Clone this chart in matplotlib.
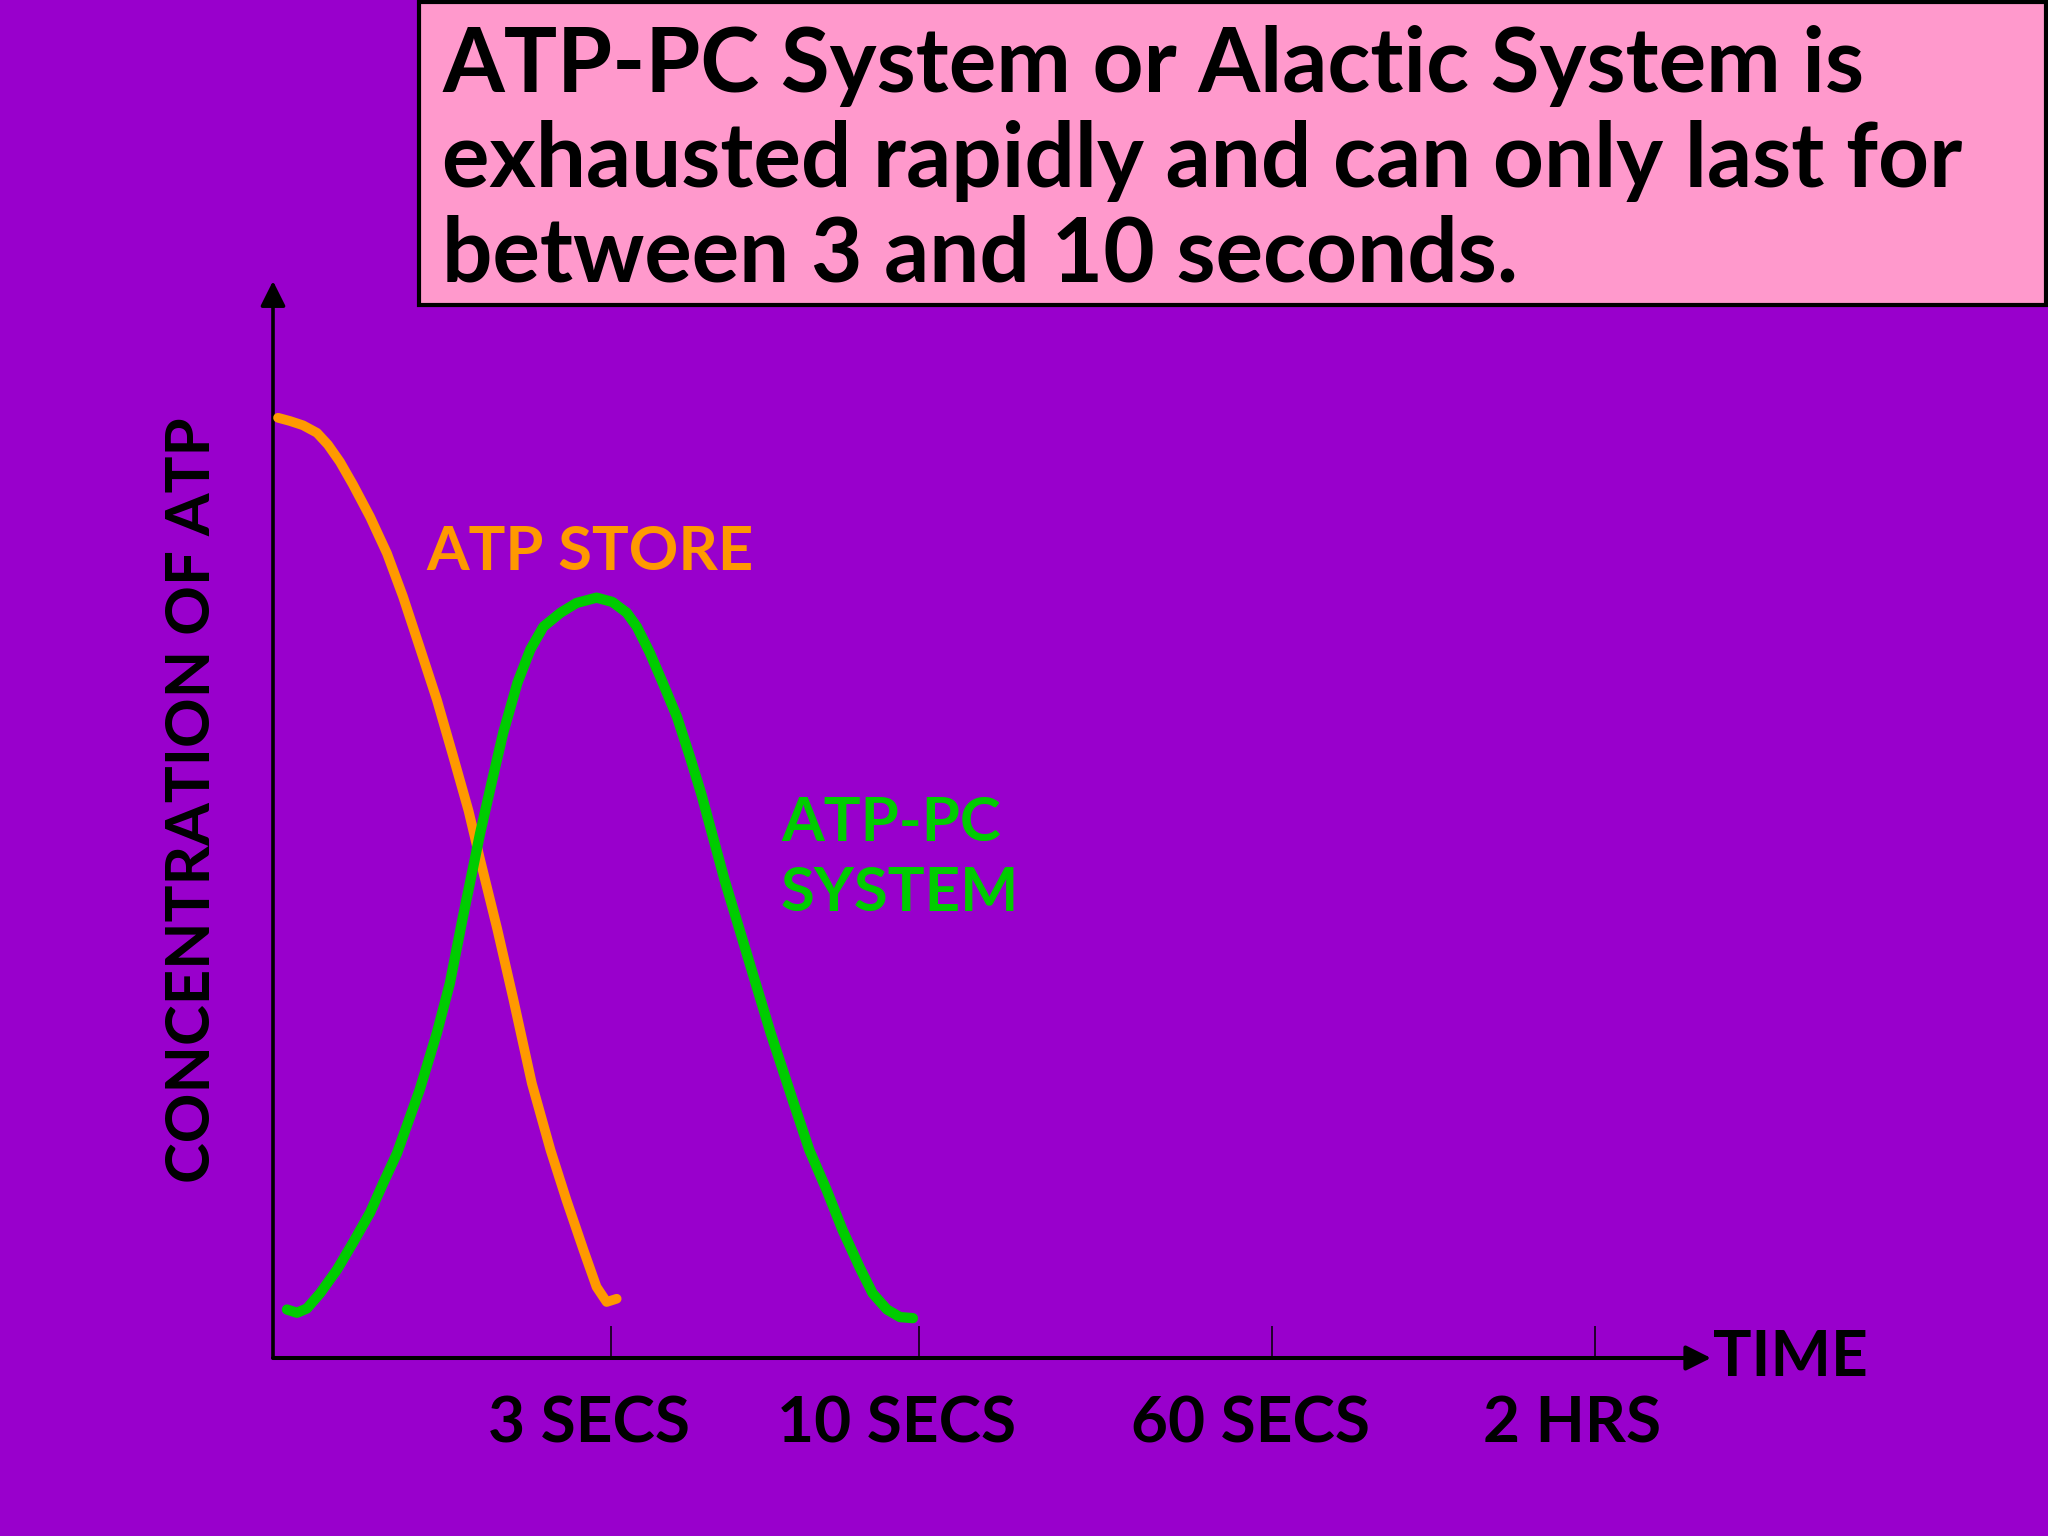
import matplotlib
matplotlib.use('Agg')
from matplotlib import pyplot as plt
from matplotlib import font_manager
from matplotlib.patches import Rectangle
from matplotlib.transforms import ScaledTranslation

# curves
# x: position along the time arrow (0-100), y: height on the concentration arrow (0-100)
store_x = [0.35, 1.18, 2.09, 3.06, 3.82, 4.66, 5.56, 6.75, 7.93, 9.04, 10.2, 11.4, 12.5,
           13.6, 14.4, 15.6, 16.7, 18.0, 19.3, 20.4, 21.6, 22.5, 23.2, 23.9]
store_y = [87.3, 87.0, 86.6, 85.9, 84.8, 83.2, 81.1, 78.1, 74.7, 70.7, 66.0, 61.1, 56.0,
           50.8, 46.3, 39.8, 33.4, 25.5, 19.3, 14.7, 10.0, 6.6, 5.2, 5.5]

pc_x = [0.97, 1.67, 2.36, 3.27, 4.45, 5.56, 6.75, 7.65, 8.62, 10.2, 11.4, 12.3, 13.2, 13.8,
        14.4, 15.2, 16.0, 17.0, 17.9, 18.8, 20.0, 21.1, 22.5, 23.6, 24.6, 25.3, 26.2, 27.1,
        28.1, 29.0, 29.8, 31.4, 33.0, 34.6, 36.2, 37.3, 38.5, 39.6, 40.8, 41.7, 42.7, 43.6,
        44.5]
pc_y = [4.5, 4.2, 4.6, 6.0, 8.2, 10.7, 13.5, 16.2, 19.0, 24.9, 30.2, 34.8, 40.9, 44.8,
        48.7, 53.4, 58.0, 62.7, 65.8, 67.9, 69.2, 70.1, 70.6, 70.2, 69.2, 67.9, 65.5, 62.7,
        59.5, 55.8, 52.3, 44.4, 37.3, 30.2, 23.7, 19.3, 15.6, 11.9, 8.4, 6.0, 4.5, 3.8,
        3.7]

tick_pos = [23.5, 44.9, 69.5, 91.9]
tick_labels = ['3 SECS', '10 SECS', '60 SECS', '2 HRS']

title_lines = ['ATP-PC System or Alactic System is',
               'exhausted rapidly and can only last for',
               'between 3 and 10 seconds.']

bg = '#9900CC'
pink = '#FF99CC'
orange = '#FF9900'
green = '#00CC00'


def pick_font():
    for name in ['Liberation Sans Narrow', 'Lato', 'DejaVu Sans']:
        try:
            font_manager.findfont(font_manager.FontProperties(family=name),
                                  fallback_to_default=False)
            return name
        except ValueError:
            pass
    return 'DejaVu Sans'


plt.rcParams['font.family'] = pick_font()
plt.rcParams['font.weight'] = 'bold'

W, H = 2048, 1536
fig = plt.figure(figsize=(W / 100, H / 100), dpi=100, facecolor=bg)
renderer = fig.canvas.get_renderer()


def fit(txt, target, use_height=False):
    bb = txt.get_window_extent(renderer)
    cur = bb.height if use_height else bb.width
    txt.set_fontsize(txt.get_fontsize() * target / cur)


def fx(px):
    return px / W


def fy(py):
    return 1 - py / H


# pink caption box at the top
fig.add_artist(Rectangle((fx(419), fy(305)), fx(2046) - fx(419), fy(2) - fy(305),
                         transform=fig.transFigure, facecolor=pink, edgecolor='black',
                         linewidth=3))
lines = []
for i, line in enumerate(title_lines):
    t = fig.text(fx(442), fy(92 + 95 * i), line, fontsize=50, color='black',
                 ha='left', va='baseline')
    lines.append(t)
fit(lines[1], 1524)
for t in lines:
    t.set_fontsize(lines[1].get_fontsize())

# plot area between the two arrows
ax = fig.add_axes([fx(273), fy(1358), fx(1711) - fx(273), fy(281) - fy(1358)])
ax.set_facecolor('none')
ax.set_xlim(0, 100)
ax.set_ylim(0, 100)
for s in ax.spines.values():
    s.set_visible(False)

ax.annotate('', xy=(100, 0), xytext=(0, 0),
            arrowprops=dict(arrowstyle='-|>', lw=2.9, color='black',
                            mutation_scale=38, shrinkA=0, shrinkB=0),
            annotation_clip=False)
ax.annotate('', xy=(0, 100), xytext=(0, 0),
            arrowprops=dict(arrowstyle='-|>', lw=2.6, color='black',
                            mutation_scale=38, shrinkA=0, shrinkB=0),
            annotation_clip=False)

ax.plot(store_x, store_y, color=orange, lw=7.0, solid_capstyle='round',
        solid_joinstyle='round', zorder=3)
ax.plot(pc_x, pc_y, color=green, lw=7.4, solid_capstyle='round',
        solid_joinstyle='round', zorder=4)

ax.set_yticks([])
ax.set_xticks(tick_pos)
ax.set_xticklabels(tick_labels)
ax.tick_params(axis='x', direction='in', length=23, width=1.1, color='black',
               pad=27, labelcolor='black')

probe = fig.text(0, 0, '10 SECS', fontsize=30)
fit(probe, 239)
lab_size = probe.get_fontsize()
probe.remove()
shift = ScaledTranslation(-22 / 100, 0, fig.dpi_scale_trans)
for lab in ax.get_xticklabels():
    lab.set_fontsize(lab_size)
    lab.set_transform(lab.get_transform() + shift)

# labels
ylab = fig.text(fx(192), fy(800), 'CONCENTRATION OF ATP', rotation=90, fontsize=40,
                color='black', ha='center', va='center')
fit(ylab, 764, use_height=True)

time_lab = fig.text(fx(1713), fy(1358), 'TIME', fontsize=40, color='black',
                    ha='left', va='center')
fit(time_lab, 155)

store_lab = fig.text(fx(590), fy(552), 'ATP STORE', fontsize=40, color=orange,
                     ha='center', va='center')
fit(store_lab, 327)

pc_lab = fig.text(fx(781), fy(858), 'ATP-PC\nSYSTEM', fontsize=40, color=green,
                  ha='left', va='center', multialignment='left', linespacing=1.3)
fit(pc_lab, 238)

fig.savefig('out.png', dpi=100, facecolor=bg)
